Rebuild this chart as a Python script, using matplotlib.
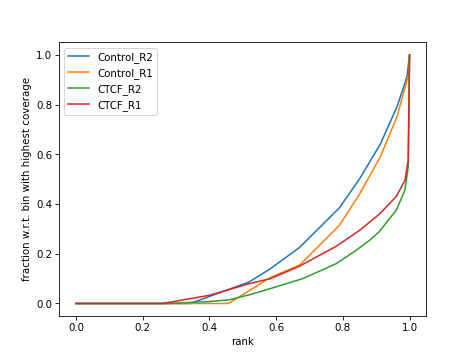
import matplotlib
matplotlib.use("Agg")
import matplotlib.pyplot as plt

# curvas tipo fingerprint leídas a ojo de la imagen
ctrl_r2_x = [0, 0.343, 0.52, 0.583, 0.67, 0.79, 0.852, 0.912, 0.962, 0.992, 1.0]
ctrl_r2_y = [0, 0, 0.087, 0.14, 0.225, 0.385, 0.505, 0.64, 0.79, 0.91, 1.0]

ctrl_r1_x = [0, 0.457, 0.49, 0.583, 0.67, 0.79, 0.85, 0.912, 0.962, 0.997, 1.0]
ctrl_r1_y = [0, 0, 0.027, 0.105, 0.154, 0.315, 0.44, 0.589, 0.75, 0.92, 1.0]

ctcf_r2_x = [0, 0.28, 0.40, 0.46, 0.52, 0.583, 0.68, 0.78, 0.84, 0.88, 0.91, 0.96, 0.986, 0.996, 1.0]
ctcf_r2_y = [0, 0, 0.008, 0.015, 0.035, 0.06, 0.10, 0.16, 0.214, 0.254, 0.29, 0.375, 0.455, 0.55, 1.0]

ctcf_r1_x = [0, 0.26, 0.40, 0.52, 0.583, 0.67, 0.78, 0.85, 0.91, 0.96, 0.986, 0.996, 1.0]
ctcf_r1_y = [0, 0, 0.033, 0.08, 0.10, 0.15, 0.23, 0.294, 0.36, 0.43, 0.495, 0.575, 1.0]

fig, ax = plt.subplots(figsize=(6.4, 4.8), dpi=74)

ax.plot(ctrl_r2_x, ctrl_r2_y, label="Control_R2")
ax.plot(ctrl_r1_x, ctrl_r1_y, label="Control_R1")
ax.plot(ctcf_r2_x, ctcf_r2_y, label="CTCF_R2")
ax.plot(ctcf_r1_x, ctcf_r1_y, label="CTCF_R1")

ax.set_xlabel("rank")
ax.set_ylabel("fraction w.r.t. bin with highest coverage")
ax.legend(loc="upper left")

fig.savefig("out.png", dpi=74)
